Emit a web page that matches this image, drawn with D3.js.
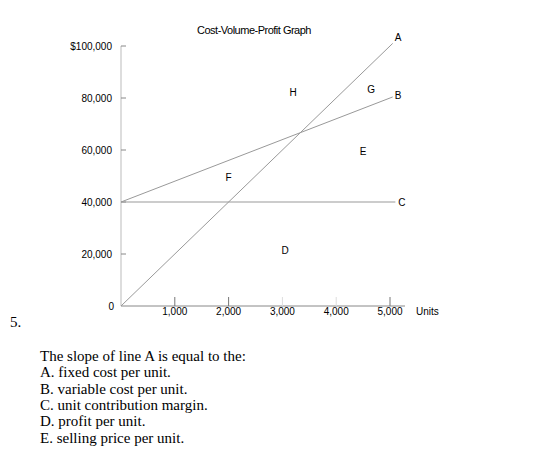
<!DOCTYPE html><html><head><meta charset="utf-8"><script src="https://cdn.jsdelivr.net/npm/d3@7"></script>
<style>body{margin:0;background:#fff}</style></head><body><svg id="c" width="546" height="471"></svg>
<script>
const xTicks=[1000,2000,3000,4000,5000];
const xTickLabels=["1,000","2,000","3,000","4,000","5,000"];
const yTicks=[0,20000,40000,60000,80000,100000];
const yTickLabels=["0","20,000","40,000","60,000","80,000","$100,000"];
const lineA=[[0,0],[5050,101000]];
const lineB=[[0,40000],[5050,80400]];
const lineC=[[0,40000],[5100,40000]];
const regionLabels=[["A",5150,103500],["B",5150,81000],["C",5220,40000],["D",3050,21500],["E",4500,59500],["F",2000,49500],["G",4650,83500],["H",3200,82500]];
const question=["The slope of line A is equal to the:","A. fixed cost per unit.","B. variable cost per unit.","C. unit contribution margin.","D. profit per unit.","E. selling price per unit."];
const svg=d3.select("#c");
const x=d3.scaleLinear().domain([0,5000]).range([121,390]);
const y=d3.scaleLinear().domain([0,100000]).range([306,46]);
const g="#999";
svg.append("line").attr("x1",121).attr("x2",121).attr("y1",y(100000)).attr("y2",y(0)).attr("stroke","#bbb");
svg.append("line").attr("x1",121).attr("x2",405).attr("y1",y(0)).attr("y2",y(0)).attr("stroke","#888");
yTicks.forEach((v,i)=>{ if(v>0) svg.append("line").attr("x1",121).attr("x2",126).attr("y1",y(v)).attr("y2",y(v)).attr("stroke","#888");
 svg.append("text").attr("x",v===0?114:112).attr("y",y(v)+4).attr("text-anchor","end").attr("font-family","Arial").attr("font-size",10).text(yTickLabels[i]);});
xTicks.forEach((v,i)=>{svg.append("line").attr("x1",x(v)).attr("x2",x(v)).attr("y1",y(0)).attr("y2",y(0)-9).attr("stroke",(v==3000||v==4000)?"#ddd":"#777");
 svg.append("text").attr("x",x(v)).attr("y",y(0)+9).attr("text-anchor","middle").attr("font-family","Arial").attr("font-size",10).text(xTickLabels[i]);});
svg.append("text").attr("x",416).attr("y",y(0)+9).attr("font-family","Arial").attr("font-size",10).text("Units");
const ln=d3.line().x(d=>x(d[0])).y(d=>y(d[1]));
[lineA,lineB,lineC].forEach(d=>svg.append("path").attr("d",ln(d)).attr("fill","none").attr("stroke",g).attr("stroke-width",1));
regionLabels.forEach(d=>svg.append("text").attr("x",x(d[1])).attr("y",y(d[2])+4).attr("text-anchor","middle").attr("font-family","Arial").attr("font-size",10).text(d[0]));
svg.append("text").attr("x",254).attr("y",34).attr("text-anchor","middle").attr("font-family","Arial").attr("font-size",11).attr("letter-spacing",-0.5).text("Cost-Volume-Profit Graph");
svg.append("text").attr("x",10).attr("y",327).attr("font-family","Liberation Serif").attr("font-size",15).text("5.");
question.forEach((t,i)=>svg.append("text").attr("x",40).attr("y",361+i*16.3).attr("font-family","Liberation Serif").attr("font-size",15).text(t));
</script></body></html>
